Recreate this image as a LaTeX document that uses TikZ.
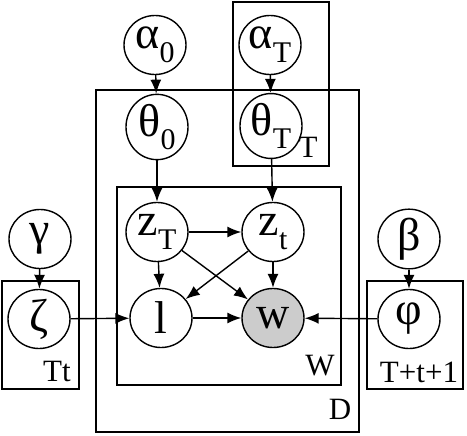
\documentclass[tikz,border=0pt]{standalone}
\usepackage{fontspec}
\setmainfont{Liberation Serif}
\usetikzlibrary{shapes.geometric,arrows.meta}

\newcommand{\lowidx}[1]{\raisebox{-0.65ex}{\fontsize{30}{30}\selectfont #1}}

\tikzset{
  var/.style={draw, ellipse, line width=1.4pt, minimum width=62pt, minimum height=59pt,
    inner sep=0pt, font=\fontsize{46}{46}\selectfont},
  obs/.style={var, fill=black!20},
  edge/.style={line width=1.4pt, -{Latex[length=14pt,width=11pt]}},
  plate/.style={line width=1.4pt},
  platelabel/.style={font=\fontsize{31}{31}\selectfont}
}

\begin{document}
\begin{tikzpicture}[x=1pt,y=-1pt]
\useasboundingbox (0,0) rectangle (467,436);
% plates
\draw[plate] (96,90) rectangle (359,432);
\draw[plate] (117,187) rectangle (341,385);
\draw[plate] (233,2) rectangle (329,166);
\draw[plate] (2,281) rectangle (79,389);
\draw[plate] (367,281) rectangle (463,389);
\node[platelabel] (labD) at (340,409) {D};
\node[platelabel] (labW) at (320,366) {W};
\node[platelabel] (labT) at (308,147) {T};
\node[platelabel] (labTt) at (57,372) {Tt};
\node[platelabel] (labTtt) at (419,372) {T+t+1};
% variables
\node[var] (alpha0) at (155,45) {α\lowidx{0}};
\node[var] (alphaT) at (270,45) {α\lowidx{T}};
\node[var] (theta0) at (157,127) {θ\lowidx{0}};
\node[var] (thetaT) at (271,126) {θ\lowidx{T}};
\node[var] (zT) at (157,232) {z\lowidx{T}};
\node[var] (zt) at (273,232) {z\lowidx{t}};
\node[var] (l) at (161,318) {l};
\node[obs] (w) at (273,318) {w};
\node[var] (gamma) at (40,239) {γ};
\node[var] (zeta) at (39,319) {ζ};
\node[var] (beta) at (409,239) {β};
\node[var] (phi) at (409,319) {φ};
% edges
\draw[edge] (alpha0) -- (theta0);
\draw[edge] (alphaT) -- (thetaT);
\draw[edge] (theta0) -- (zT);
\draw[edge] (thetaT) -- (zt);
\draw[edge] (zT) -- (zt);
\draw[edge] (zT) -- (l);
\draw[edge] (zT) -- (w);
\draw[edge] (zt) -- (l);
\draw[edge] (zt) -- (w);
\draw[edge] (l) -- (w);
\draw[edge] (gamma) -- (zeta);
\draw[edge] (zeta) -- (l);
\draw[edge] (beta) -- (phi);
\draw[edge] (phi) -- (w);
\end{tikzpicture}
\end{document}
